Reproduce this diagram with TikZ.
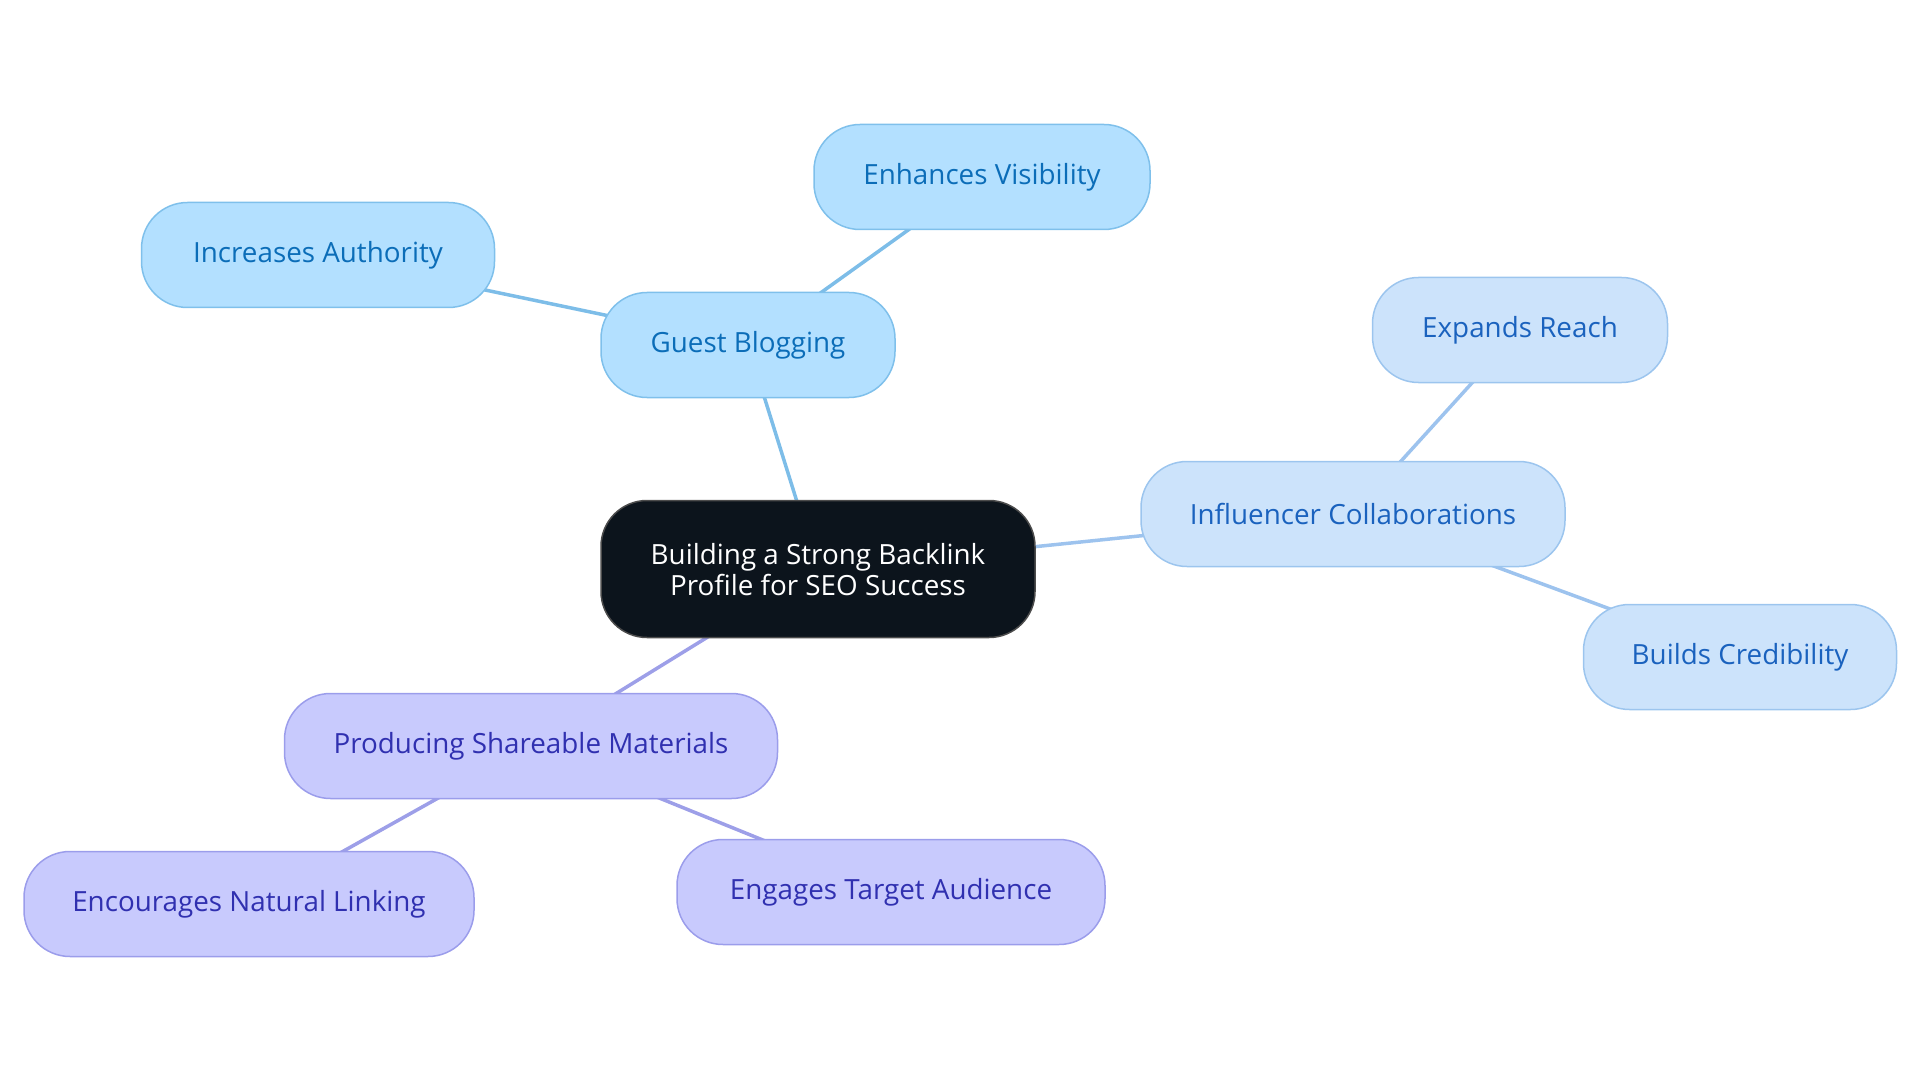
\documentclass[tikz,border=0pt]{standalone}
\usepackage{fontspec}
\setmainfont{Open Sans}
\usetikzlibrary{backgrounds}
\begin{document}
\begin{tikzpicture}[x=1pt,y=-1pt,
  base/.style={rounded corners=46pt, minimum height=105pt, inner sep=0pt, line width=1.5pt, font=\fontsize{27.8}{31}\selectfont, align=center},
  gb/.style={base, fill=gbfill, draw=gbdraw, text=gbtext},
  ic/.style={base, fill=icfill, draw=icdraw, text=ictext},
  ps/.style={base, fill=psfill, draw=psdraw, text=pstext},
  gbl/.style={draw=gbline, line width=3.5pt},
  icl/.style={draw=icline, line width=3.5pt},
  psl/.style={draw=psline, line width=3.5pt}]
\definecolor{gbfill}{HTML}{B3E0FF}
\definecolor{gbdraw}{HTML}{7FC0EB}
\definecolor{gbtext}{HTML}{0B6DB8}
\definecolor{gbline}{HTML}{7DBDE8}
\definecolor{icfill}{HTML}{CCE3FB}
\definecolor{icdraw}{HTML}{9CC5EE}
\definecolor{ictext}{HTML}{1A62BE}
\definecolor{icline}{HTML}{9DC3EE}
\definecolor{psfill}{HTML}{C8CAFD}
\definecolor{psdraw}{HTML}{9B9DEB}
\definecolor{pstext}{HTML}{3030B0}
\definecolor{psline}{HTML}{9D9FE8}
\definecolor{cfill}{HTML}{0C141C}
\useasboundingbox (0,0) rectangle (1920,1083);
\node[base, fill=cfill, draw=black!70, text=white, minimum width=434pt, minimum height=137pt, text depth=0pt] (c) at (818,569) {Building a Strong Backlink\\Profile for SEO Success};
\node[gb, minimum width=294pt] (g) at (748,345) {Guest Blogging};
\node[gb, minimum width=336pt] (g1) at (982,177) {Enhances Visibility};
\node[gb, minimum width=353pt] (g2) at (318,255) {Increases Authority};
\node[ic, minimum width=424pt] (i) at (1353,514) {Influencer Collaborations};
\node[ic, minimum width=295pt] (i1) at (1520,330) {Expands Reach};
\node[ic, minimum width=313pt] (i2) at (1740,657) {Builds Credibility};
\node[ps, minimum width=493pt] (p) at (531,746) {Producing Shareable Materials};
\node[ps, minimum width=450pt] (p1) at (249,904) {Encourages Natural Linking};
\node[ps, minimum width=428pt] (p2) at (891,892) {Engages Target Audience};
\begin{pgfonlayer}{background}
\draw[gbl] (c.center) -- (g.center);
\draw[gbl] (g.center) -- (g1.center);
\draw[gbl] (g.center) -- (g2.center);
\draw[icl] (c.center) -- (i.center);
\draw[icl] (i.center) -- (i1.center);
\draw[icl] (i.center) -- (i2.center);
\draw[psl] (c.center) -- (p.center);
\draw[psl] (p.center) -- (p1.center);
\draw[psl] (p.center) -- (p2.center);
\end{pgfonlayer}
\end{tikzpicture}
\end{document}
